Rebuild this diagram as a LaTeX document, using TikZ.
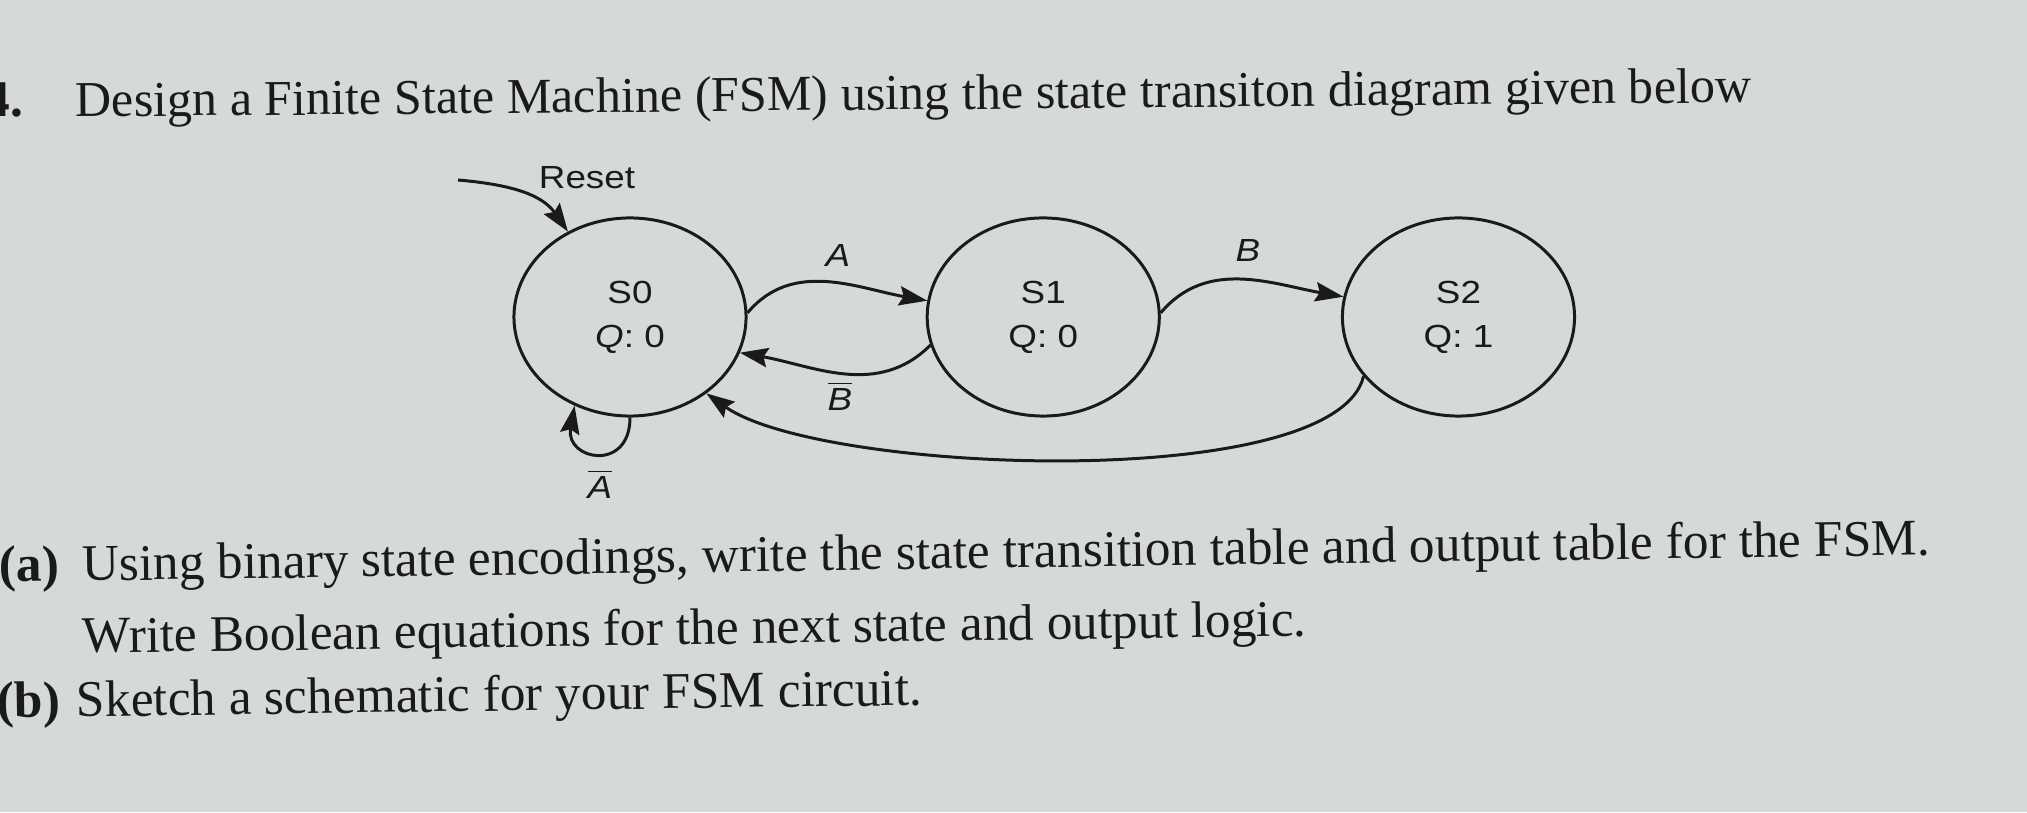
\documentclass[tikz,border=0pt]{standalone}
\usepackage{fontspec}
\setmainfont{Liberation Serif}
\newfontfamily\diagfont[FakeStretch=1.15]{Liberation Sans}
\usepackage{tikz}
\usetikzlibrary{shapes,shapes.geometric,arrows.meta}
\definecolor{paper}{RGB}{214,218,214}
\definecolor{ink}{RGB}{26,26,26}
\newcommand{\qfont}{\fontsize{14.6}{17}\selectfont}
\newcommand{\titlefont}{\fontsize{14.25}{17}\selectfont}
\newcommand{\statefont}{\diagfont\fontsize{9.1}{12.5}\selectfont}
\tikzstyle{state} = [ellipse, draw=ink, line width=0.85pt, minimum width=2.32cm,
    minimum height=1.98cm, inner sep=0pt, align=center, font=\statefont, text=ink]
\tikzstyle{line} = [draw=ink, -{Stealth[length=8pt,width=5.5pt,inset=1.2pt]}, line width=0.85pt]
\tikzstyle{lbl} = [font=\statefont, text=ink, inner sep=0pt]
\tikzstyle{txt} = [anchor=base west, inner sep=0pt, font=\qfont, text=ink]

\begin{document}
\begin{tikzpicture}[x=0.01cm, y=0.01cm, node distance = auto]
    \fill[paper] (0,0) rectangle (2027,812);
    \useasboundingbox (0,0) rectangle (2027,812);
    % Question text
    \node [txt, anchor=base east] (num) at (24,695) {\textbf{4.}};
    \node [txt, font=\titlefont, rotate=0.5] (title) at (75,695) {Design a Finite State Machine (FSM) using the state transiton diagram given below};
    \node [txt, rotate=0.8] (qa) at (-1,230) {\textbf{(a)}\hspace{2.8pt} Using binary state encodings, write the state transition table and output table for the FSM.};
    \node [txt, rotate=0.8] (qa2) at (82,159) {Write Boolean equations for the next state and output logic.};
    \node [txt, rotate=0.8] (qb) at (-3,94) {\textbf{(b)}\hspace{1pt} Sketch a schematic for your FSM circuit.};
    % Place nodes
    \node [state] (s0) at (630,495) {S0\\\textit{Q}: 0};
    \node [state, right of=s0, node distance=4.13cm] (s1) {S1\\Q: 0};
    \node [state, right of=s1, node distance=4.15cm] (s2) {S2\\Q: 1};
    \coordinate (rst) at (458,632);
    \node [lbl] (rstlbl) at (587,634) {Reset};
    \node [lbl] (la) at (838,557) {\textit{A}};
    \node [lbl] (lnb) at (840,416) {$\overline{\mbox{\textit{B}}}$};
    \node [lbl] (lb) at (1248,562) {\textit{B}};
    \node [lbl] (lna) at (600,328) {$\overline{\mbox{\textit{A}}}$};
    % Draw edges
    \path [line] (rst) to[out=-5,in=125] (s0.126);
    \path [line] (s0.2) to[out=50,in=170] (s1.172);
    \path [line] (s1.194) to[out=225,in=-10] (s0.342);
    \path [line] (s0.270) to[out=-90,in=-100,looseness=2.5] (s0.238);
    \path [line] (s1.2) to[out=50,in=170] (s2.170);
    \path [line] (s2.212) .. controls (1335,318) and (820,338) .. (s0.315);
\end{tikzpicture}
\end{document}
